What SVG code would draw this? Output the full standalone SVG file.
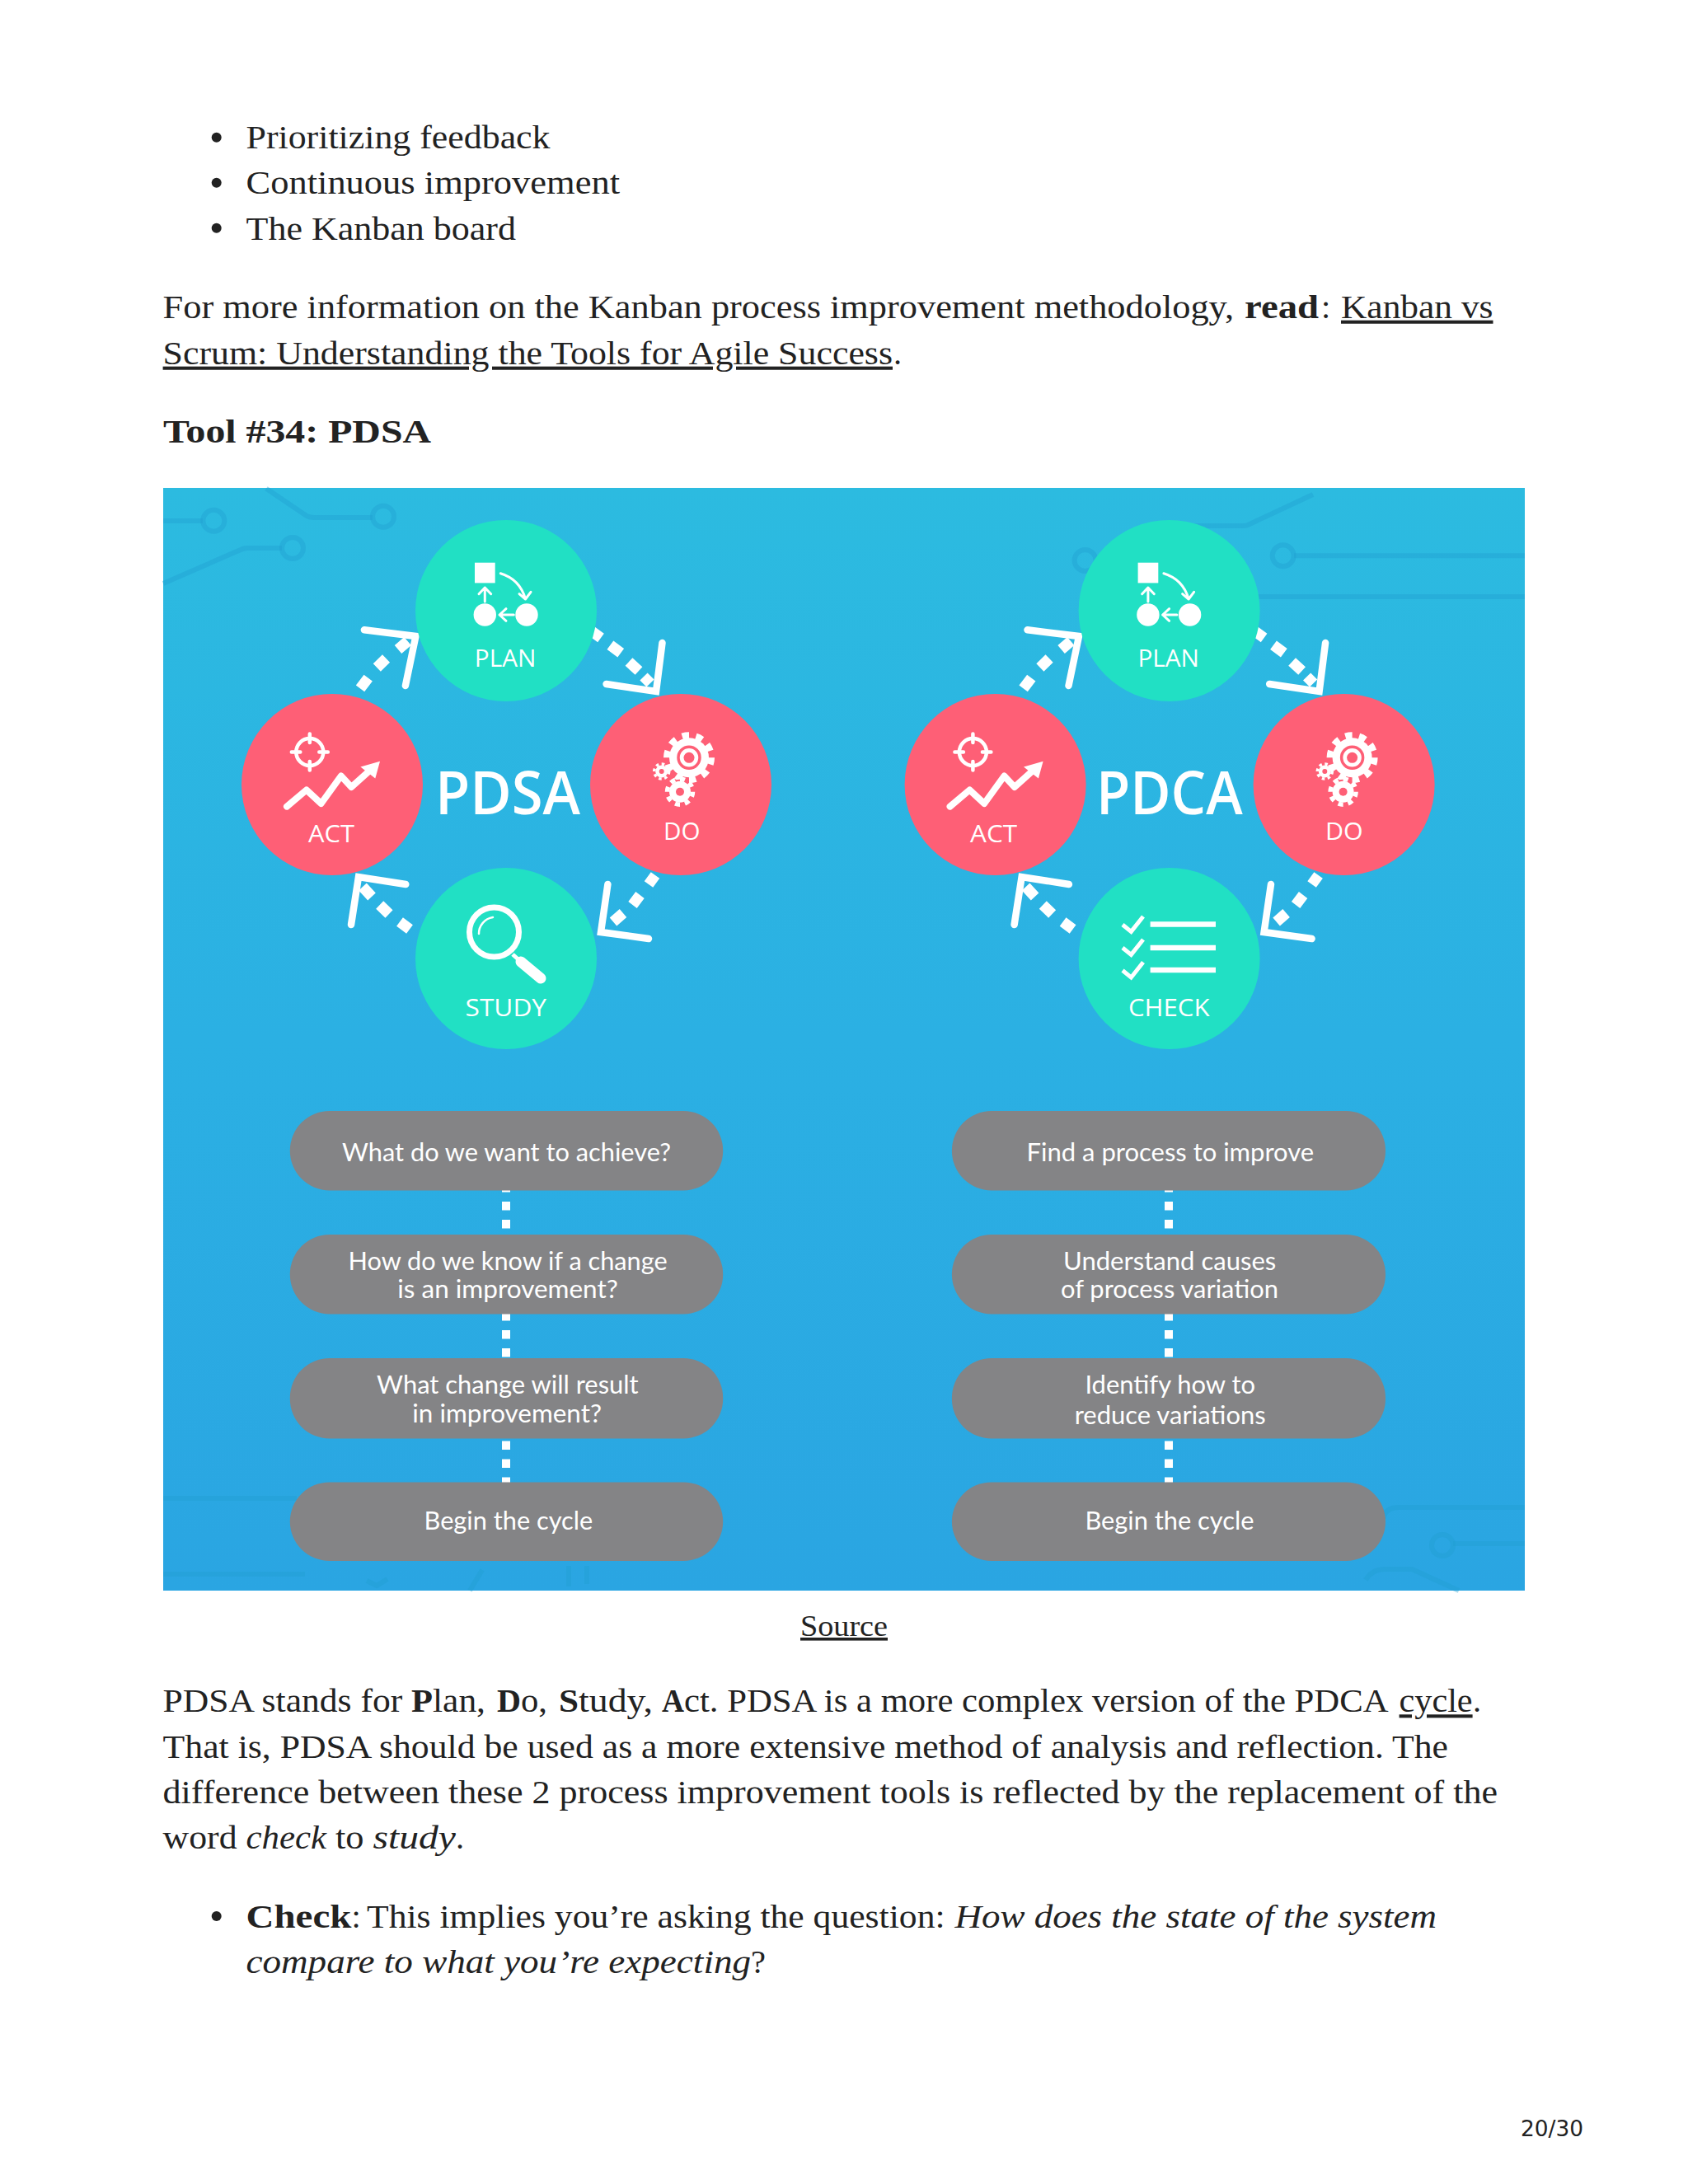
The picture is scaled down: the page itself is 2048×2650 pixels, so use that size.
<svg xmlns="http://www.w3.org/2000/svg" xmlns:xlink="http://www.w3.org/1999/xlink" width="2048" height="2650" viewBox="0 0 2048 2650">
<style>
.s{font-family:"Liberation Serif","DejaVu Serif",serif;font-size:40.5px;fill:#222}
.b{font-weight:700}
.i{font-style:italic}
.u{text-decoration:underline}
.trace{fill:none;stroke:#1f9fd0;stroke-opacity:.38;stroke-width:6}
.head{fill:none;stroke:#fff;stroke-width:8.5;stroke-linecap:round;stroke-linejoin:miter}
.dash{fill:none;stroke:#fff;stroke-width:13}
.vd{fill:none;stroke:#fff;stroke-width:10;stroke-dasharray:10.5 11.5}
.green{fill:#21e0c4}
.red{fill:#fe5f76}
.pill{fill:#848486}
.lab{font-family:"Open Sans","Noto Sans",sans-serif;font-size:30px;fill:#fff}
.big{font-family:"Open Sans","Noto Sans",sans-serif;font-size:73px;font-weight:600;fill:#fff}
.pt{font-family:Lato,"Open Sans",sans-serif;font-size:31px;fill:#fff}
.ln{fill:none;stroke:#fff;stroke-width:3;stroke-linecap:round;stroke-linejoin:round}
</style>
<defs>
<linearGradient id="bg" x1="0" y1="0" x2="0" y2="1"><stop offset="0" stop-color="#2cbbe0"/><stop offset=".5" stop-color="#2bb0e3"/><stop offset="1" stop-color="#2aa5e2"/></linearGradient>
<g id="icon-plan">
<rect x="576" y="682.7" width="24.7" height="24.7" fill="#fff"/>
<circle cx="588.3" cy="746" r="13.7" fill="#fff"/><circle cx="639" cy="746" r="13.7" fill="#fff"/>
<path class="ln" d="M588.3 730V713M581 720.7L588.3 713L595.7 720.7M623.3 746H606M614 738.7L606 746L614 753.3M607.3 695.7Q631 703 637.5 727M630 720.7L637.5 727L644 718.3"/>
</g>
<g id="icon-act">
<circle cx="375.8" cy="912.5" r="16.5" fill="none" stroke="#fff" stroke-width="4.5"/>
<path d="M375.8 890.5V901M375.8 924V934.5M353.8 912.5H364.3M387.3 912.5H397.8" fill="none" stroke="#fff" stroke-width="4.5" stroke-linecap="round"/>
<path d="M348 978.6L371.8 958.5L389.6 975L413.8 941.5L426.3 955L448 935.5" fill="none" stroke="#fff" stroke-width="8" stroke-linecap="round" stroke-linejoin="round"/>
<path d="M461 923.7L437.4 930.4L455.3 944.5Z" fill="#fff"/>
</g>
<g id="icon-do">
<circle cx="836" cy="919.3" r="24" fill="#fff"/>
<circle cx="836" cy="919.3" r="27" fill="none" stroke="#fff" stroke-width="8" pathLength="20" stroke-dasharray="1 1"/>
<circle cx="836" cy="919.3" r="13" fill="none" stroke="#fe5f76" stroke-width="3.5"/>
<circle cx="836" cy="919.3" r="6.5" fill="#fe5f76"/>
<circle cx="825" cy="960.7" r="14" fill="#fff" stroke="#fe5f76" stroke-width="2"/>
<circle cx="825" cy="960.7" r="15.5" fill="none" stroke="#fff" stroke-width="5.5" pathLength="16" stroke-dasharray="1 1"/>
<circle cx="825" cy="960.7" r="5" fill="#fe5f76"/>
<circle cx="802.7" cy="936" r="7.5" fill="#fff"/>
<circle cx="802.7" cy="936" r="9" fill="none" stroke="#fff" stroke-width="3.5" pathLength="16" stroke-dasharray="1 1"/>
<circle cx="802.7" cy="936" r="3" fill="#fe5f76"/>
</g>
<g id="cycle-arrows">
<path class="head" d="M441.9 764.3L504.4 772L491.9 832"/>
<path class="dash" d="M437 835.4L446.7 822.6M457.3 810L468.5 799M483 788L494.6 778"/>
<path class="head" d="M803.5 780L796 839L735.6 830"/>
<path class="dash" d="M718 766L729 774M740.4 782.7L753.2 792.3M763 803L775 814M781 821L789 829"/>
<path class="head" d="M737.4 1073L729 1131L787 1139"/>
<path class="dash" d="M795 1062L787 1073M776.5 1086L767.5 1098M756 1108L744 1118.5"/>
<path class="head" d="M426 1122L435 1064L492.3 1073"/>
<path class="dash" d="M497 1127.5L485 1118.5M472 1109L460.7 1098M451 1088L440 1076"/>
</g>
</defs>
<rect width="2048" height="2650" fill="#fff"/>
<g id="text-top">
<circle cx="262.7" cy="166.7" r="6" fill="#222"/><circle cx="262.7" cy="221.7" r="6" fill="#222"/><circle cx="262.7" cy="276.7" r="6" fill="#222"/>
<text class="s" x="298.5" y="180" textLength="369" lengthAdjust="spacingAndGlyphs">Prioritizing feedback</text>
<text class="s" x="298.5" y="235" textLength="453.5" lengthAdjust="spacingAndGlyphs">Continuous improvement</text>
<text class="s" x="298.5" y="290.7" textLength="327.5" lengthAdjust="spacingAndGlyphs">The Kanban board</text>
<text class="s" x="197.6" y="385.7" textLength="1299.4" lengthAdjust="spacingAndGlyphs">For more information on the Kanban process improvement methodology,</text>
<text class="s b" x="1510" y="385.7" textLength="90" lengthAdjust="spacingAndGlyphs">read</text>
<text class="s" x="1603" y="385.7">:</text>
<text class="s u" x="1627" y="385.7" textLength="184.5" lengthAdjust="spacingAndGlyphs">Kanban vs</text>
<text class="s u" x="197.6" y="441.7" textLength="885.4" lengthAdjust="spacingAndGlyphs">Scrum: Understanding the Tools for Agile Success</text>
<text class="s" x="1084" y="441.7">.</text>
<text class="s b" x="198" y="536.7" textLength="325" lengthAdjust="spacingAndGlyphs">Tool #34: PDSA</text>
</g>
<g id="figure-background">
<rect x="198" y="592" width="1652" height="1338" fill="url(#bg)"/>
<path class="trace" d="M198 632H246M323 592.7L372 626Q376 628 381 628H452M198 708L292 667Q296 665 300 665H342M1593 600L1516 636Q1513 638 1508 638H1437M1570 674.3H1850M1510 724H1850M198 1818H360M198 1910H370M1678 1843Q1681 1829 1697 1829H1850M1763 1873H1850M1657 1917Q1665 1904 1680 1904H1713L1770 1930M445 1918L457 1924L470 1916M570 1930L585 1905M690 1900V1925M712 1900V1922"/>
<circle class="trace" cx="259.3" cy="631.7" r="13"/><circle class="trace" cx="465" cy="626.7" r="13"/><circle class="trace" cx="355" cy="665" r="13"/><circle class="trace" cx="1556.7" cy="674.3" r="13"/><circle class="trace" cx="1316.6" cy="680" r="13"/><circle class="trace" cx="1750" cy="1875" r="13"/>
</g>
<g id="connectors">
<use href="#cycle-arrows"/>
<use href="#cycle-arrows" transform="translate(804.6 0)"/>
<path class="vd" d="M614 1436V1498M614 1592V1648M614 1748.5V1803M1418 1436V1498M1418 1592V1648M1418 1748.5V1803"/>
</g>
<g id="pdsa-title"><text class="big" x="528" y="987.5" textLength="176" lengthAdjust="spacingAndGlyphs">PDSA</text></g>
<g id="pdca-title"><text class="big" x="1330" y="987.5" textLength="177.7" lengthAdjust="spacingAndGlyphs">PDCA</text></g>
<g id="l-plan"><circle class="green" cx="614" cy="741" r="110"/><use href="#icon-plan"/><text class="lab" x="575.8" y="809" textLength="74.6" lengthAdjust="spacingAndGlyphs">PLAN</text></g>
<g id="l-do"><circle class="red" cx="826" cy="952" r="110"/><use href="#icon-do"/><text class="lab" x="805" y="1019" textLength="44.5" lengthAdjust="spacingAndGlyphs">DO</text></g>
<g id="l-study"><circle class="green" cx="614" cy="1163" r="110"/>
<circle cx="599.5" cy="1131" r="30" fill="none" stroke="#fff" stroke-width="7"/>
<path d="M581 1133A20 20 0 0 1 598 1113" fill="none" stroke="#fff" stroke-width="2.5" stroke-linecap="round"/>
<path d="M622 1158L632 1167" stroke="#fff" stroke-width="5" fill="none"/>
<path d="M632 1167L656 1187" stroke="#fff" stroke-width="13" stroke-linecap="round" fill="none"/>
<text class="lab" x="564.6" y="1233" textLength="98.4" lengthAdjust="spacingAndGlyphs">STUDY</text></g>
<g id="l-act"><circle class="red" cx="403" cy="952" r="110"/><use href="#icon-act"/><text class="lab" x="374" y="1022" textLength="56" lengthAdjust="spacingAndGlyphs">ACT</text></g>
<g id="r-plan"><circle class="green" cx="1418.6" cy="741" r="110"/><use href="#icon-plan" transform="translate(804.6 0)"/><text class="lab" x="1380.4" y="809" textLength="74.6" lengthAdjust="spacingAndGlyphs">PLAN</text></g>
<g id="r-do"><circle class="red" cx="1630.6" cy="952" r="110"/><use href="#icon-do" transform="translate(804.6 0)"/><text class="lab" x="1608" y="1019" textLength="45.7" lengthAdjust="spacingAndGlyphs">DO</text></g>
<g id="r-check"><circle class="green" cx="1418.6" cy="1163" r="110"/>
<path d="M1395.6 1121.4H1475M1395.6 1150H1475M1395.6 1177H1475" fill="none" stroke="#fff" stroke-width="6.5"/>
<path d="M1362 1122L1372.4 1130.4L1387 1112M1362 1150L1372.4 1158.4L1387 1140M1362 1177.5L1372.4 1186L1387 1167.5" fill="none" stroke="#fff" stroke-width="5"/>
<text class="lab" x="1369" y="1233" textLength="98.5" lengthAdjust="spacingAndGlyphs">CHECK</text></g>
<g id="r-act"><circle class="red" cx="1207.6" cy="952" r="110"/><use href="#icon-act" transform="translate(804.6 0)"/><text class="lab" x="1177" y="1022" textLength="57" lengthAdjust="spacingAndGlyphs">ACT</text></g>
<g id="l-q1"><rect class="pill" x="351.8" y="1348" width="525.4" height="96.4" rx="48"/><text class="pt" x="415" y="1408.8" textLength="399" lengthAdjust="spacingAndGlyphs">What do we want to achieve?</text></g>
<g id="l-q2"><rect class="pill" x="351.8" y="1498" width="525.4" height="96.4" rx="48"/><text class="pt" x="422.6" y="1541.2" textLength="387" lengthAdjust="spacingAndGlyphs">How do we know if a change</text><text class="pt" x="482.3" y="1575.3" textLength="267.5" lengthAdjust="spacingAndGlyphs">is an improvement?</text></g>
<g id="l-q3"><rect class="pill" x="351.8" y="1648" width="525.4" height="97.5" rx="48"/><text class="pt" x="457" y="1691.2" textLength="317.7" lengthAdjust="spacingAndGlyphs">What change will result</text><text class="pt" x="500.3" y="1725.7" textLength="229.7" lengthAdjust="spacingAndGlyphs">in improvement?</text></g>
<g id="l-q4"><rect class="pill" x="351.8" y="1798.4" width="525.4" height="95.6" rx="48"/><text class="pt" x="514.5" y="1855.8" textLength="204.7" lengthAdjust="spacingAndGlyphs">Begin the cycle</text></g>
<g id="r-q1"><rect class="pill" x="1154.9" y="1348" width="526.1" height="96.4" rx="48"/><text class="pt" x="1245.6" y="1408.8" textLength="348.6" lengthAdjust="spacingAndGlyphs">Find a process to improve</text></g>
<g id="r-q2"><rect class="pill" x="1154.9" y="1498" width="526.1" height="96.4" rx="48"/><text class="pt" x="1290" y="1541.2" textLength="258.3" lengthAdjust="spacingAndGlyphs">Understand causes</text><text class="pt" x="1287" y="1575.3" textLength="264" lengthAdjust="spacingAndGlyphs">of process variation</text></g>
<g id="r-q3"><rect class="pill" x="1154.9" y="1648" width="526.1" height="97.5" rx="48"/><text class="pt" x="1316.4" y="1691.2" textLength="206.6" lengthAdjust="spacingAndGlyphs">Identify how to</text><text class="pt" x="1303.7" y="1728.3" textLength="232" lengthAdjust="spacingAndGlyphs">reduce variations</text></g>
<g id="r-q4"><rect class="pill" x="1154.9" y="1798.4" width="526.1" height="95.6" rx="48"/><text class="pt" x="1316.4" y="1855.8" textLength="205.1" lengthAdjust="spacingAndGlyphs">Begin the cycle</text></g>
<g id="text-bottom">
<text class="s u" style="font-size:36px" x="971" y="1985" textLength="106" lengthAdjust="spacingAndGlyphs">Source</text>
<text class="s" x="197.6" y="2077.3" textLength="290.7" lengthAdjust="spacingAndGlyphs">PDSA stands for</text>
<text class="s b" x="499" y="2077.3" textLength="26" lengthAdjust="spacingAndGlyphs">P</text>
<text class="s" x="525" y="2077.3" textLength="64" lengthAdjust="spacingAndGlyphs">lan,</text>
<text class="s b" x="603" y="2077.3" textLength="29" lengthAdjust="spacingAndGlyphs">D</text>
<text class="s" x="632" y="2077.3" textLength="32" lengthAdjust="spacingAndGlyphs">o,</text>
<text class="s b" x="678" y="2077.3" textLength="24" lengthAdjust="spacingAndGlyphs">S</text>
<text class="s" x="702" y="2077.3" textLength="90" lengthAdjust="spacingAndGlyphs">tudy,</text>
<text class="s b" x="803" y="2077.3" textLength="27" lengthAdjust="spacingAndGlyphs">A</text>
<text class="s" x="830" y="2077.3" textLength="854.6" lengthAdjust="spacingAndGlyphs">ct. PDSA is a more complex version of the PDCA</text>
<text class="s u" x="1697.6" y="2077.3" textLength="89" lengthAdjust="spacingAndGlyphs">cycle</text>
<text class="s" x="1787" y="2077.3">.</text>
<text class="s" x="197.6" y="2132.7" textLength="1559.4" lengthAdjust="spacingAndGlyphs">That is, PDSA should be used as a more extensive method of analysis and reflection. The</text>
<text class="s" x="197.6" y="2188.3" textLength="1619.4" lengthAdjust="spacingAndGlyphs">difference between these 2 process improvement tools is reflected by the replacement of the</text>
<text class="s" x="197.6" y="2243.3" textLength="90" lengthAdjust="spacingAndGlyphs">word</text>
<text class="s i" x="298.5" y="2243.3" textLength="97.5" lengthAdjust="spacingAndGlyphs">check</text>
<text class="s" x="407" y="2243.3" textLength="34.6" lengthAdjust="spacingAndGlyphs">to</text>
<text class="s i" x="452.5" y="2243.3" textLength="100.5" lengthAdjust="spacingAndGlyphs">study</text>
<text class="s" x="553" y="2243.3">.</text>
<circle cx="262.7" cy="2325" r="6" fill="#222"/>
<text class="s b" x="298.5" y="2339" textLength="127.9" lengthAdjust="spacingAndGlyphs">Check</text>
<text class="s" x="426.4" y="2339">:</text>
<text class="s" x="445" y="2339" textLength="701.6" lengthAdjust="spacingAndGlyphs">This implies you’re asking the question:</text>
<text class="s i" x="1158.5" y="2339" textLength="584.5" lengthAdjust="spacingAndGlyphs">How does the state of the system</text>
<text class="s i" x="298.5" y="2394.3" textLength="612.5" lengthAdjust="spacingAndGlyphs">compare to what you’re expecting</text>
<text class="s" x="911" y="2394.3">?</text>
<text x="1845" y="2592" font-family="'DejaVu Sans',sans-serif" font-size="26" fill="#222" textLength="76" lengthAdjust="spacingAndGlyphs">20/30</text>
</g>
</svg>
